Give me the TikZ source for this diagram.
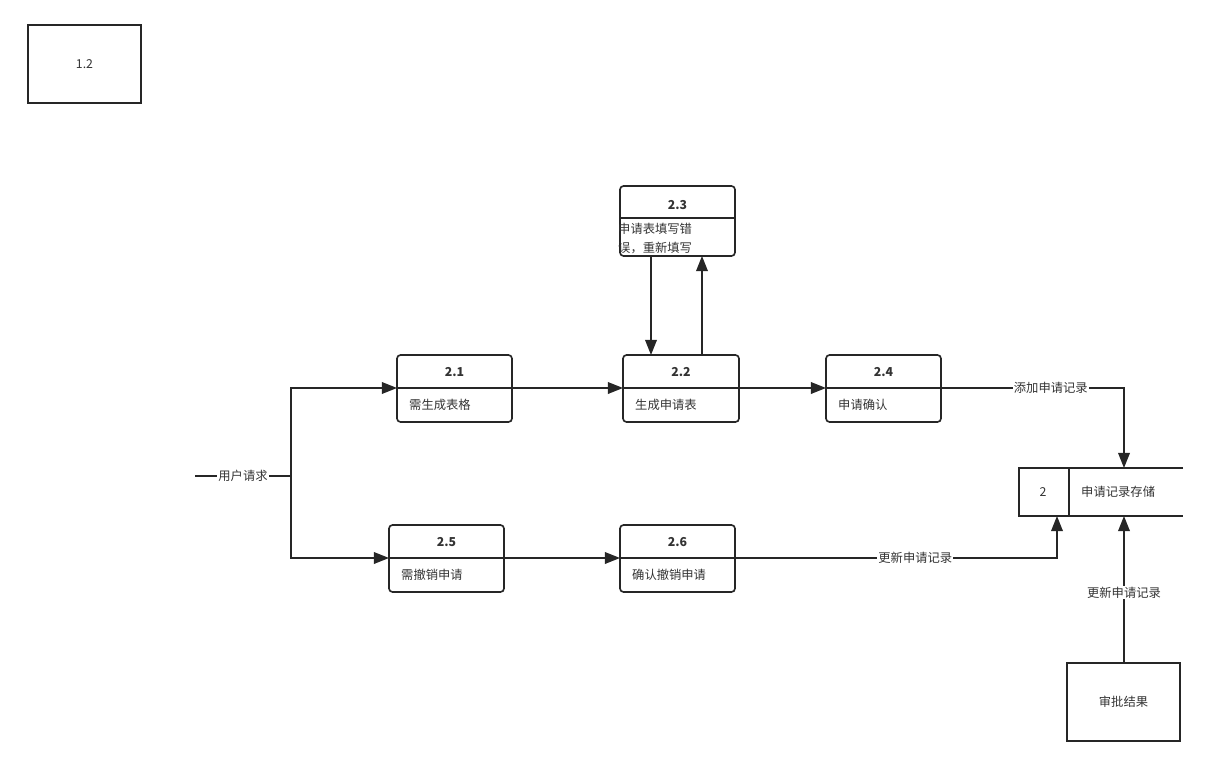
\documentclass[tikz,border=0pt]{standalone}
\usepackage{fontspec}
\setmainfont{Noto Sans CJK SC}
\usetikzlibrary{arrows.meta}

\tikzset{
  box/.style={draw=black!85, line width=1.4pt, rounded corners=3pt},
  plain/.style={draw=black!85, line width=1.4pt},
  flow/.style={draw=black!85, line width=1.4pt, -{Triangle[length=13pt,width=10pt]}},
  lbl/.style={fill=white, inner sep=1pt, font=\fontsize{10.5}{12}\selectfont, text=black!80},
  txt/.style={font=\fontsize{10.5}{13}\selectfont, text=black!80, align=left, inner sep=0pt}
}

% process box: name, left, top, right, bottom, number, text
\newcommand{\procbox}[7]{
  \draw[box] (#2,#3) rectangle (#4,#5);
  \coordinate (#1-w) at (#2,#3+33);
  \coordinate (#1-e) at (#4,#3+33);
  \coordinate (#1-n) at ({(#2+#4)/2},#3);
  \coordinate (#1-s) at ({(#2+#4)/2},#5);
  \draw[plain] (#1-w) -- (#1-e);
  \node[txt, font=\bfseries\fontsize{10.5}{12}\selectfont] (#1-num) at ({(#2+#4)/2},#3+17) {#6};
  \node[txt, anchor=west] (#1-txt) at (#2+12,#3+50) {#7};
}

\begin{document}
\begin{tikzpicture}[x=0.03cm, y=-0.03cm]
  \useasboundingbox (0,0) rectangle (1225,782);

  % header box
  \draw[plain] (28,25) rectangle (141,103);
  \node[txt] (ref) at (84.5,64) {1.2};

  % processes
  \procbox{p21}{397}{355}{512}{422}{2.1}{需生成表格}
  \procbox{p22}{623}{355}{739}{422}{2.2}{生成申请表}
  \procbox{p24}{826}{355}{941}{422}{2.4}{申请确认}
  \procbox{p25}{389}{525}{504}{592}{2.5}{需撤销申请}
  \procbox{p26}{620}{525}{735}{592}{2.6}{确认撤销申请}

  % 2.3 with two text lines
  \draw[box] (620,186) rectangle (735,256);
  \draw[plain] (620,218) -- (735,218);
  \node[txt, font=\bfseries\fontsize{10.5}{12}\selectfont] (p23-num) at (677.5,205) {2.3};
  \node[txt, anchor=north west, font=\fontsize{10.5}{16}\selectfont] (p23-txt) at (618,223) {申请表填写错\\误，重新填写};

  % data store
  \draw[plain] (1183,468) -- (1019,468) -- (1019,516) -- (1183,516);
  \draw[plain] (1069,468) -- (1069,516);
  \node[txt] (ds-id) at (1043,492) {2};
  \node[txt, anchor=west] (ds-name) at (1081,492) {申请记录存储};

  % external entity
  \draw[plain] (1067,663) rectangle (1180,741);
  \node[txt] (ext) at (1123.5,702) {审批结果};

  % connectors
  \coordinate (in) at (195,476);
  \coordinate (split) at (291,476);
  \draw[plain] (in) -- node[lbl] {用户请求} (split);
  \draw[flow] (split) |- (p21-w);
  \draw[flow] (split) |- (p25-w);
  \draw[flow] (p21-e) -- (p22-w);
  \draw[flow] (p22-e) -- (p24-w);
  \draw[flow] (651,256) -- (651,355);
  \draw[flow] (702,355) -- (702,256);
  \draw[flow] (p25-e) -- (p26-w);

  \coordinate (ds-top) at (1124,468);
  \coordinate (ds-bot) at (1124,516);
  \coordinate (ds-bl) at (1057,516);
  \draw[flow] (p24-e) -- node[lbl, pos=0.6] {添加申请记录} (1124,388) -- (ds-top);
  \draw[flow] (p26-e) -- node[lbl, pos=0.56] {更新申请记录} (1057,558) -- (ds-bl);
  \draw[flow] (1124,663) -- node[lbl, pos=0.48] {更新申请记录} (ds-bot);
\end{tikzpicture}
\end{document}
